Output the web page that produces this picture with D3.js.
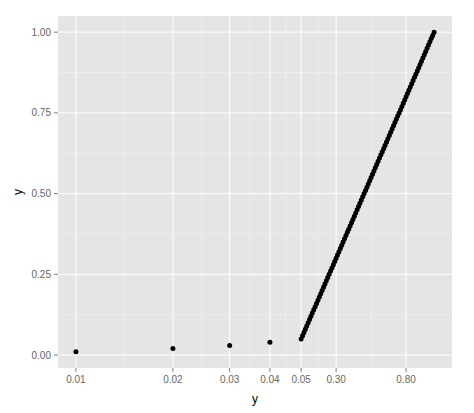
<!DOCTYPE html>
<html lang="en">
<head>
<meta charset="UTF-8">
<script src="https://d3js.org/d3.v7.min.js"></script>
<style>
  body { margin: 0; background: #fff; font-family: Arial, "Liberation Sans", sans-serif; }
</style>
</head>
<body>
<div id="chart"></div>
<script>
  const lowValues = [0.01, 0.02, 0.03, 0.04];
  const lineValues = [
    0.05, 0.06, 0.07, 0.08, 0.09, 0.10, 0.11, 0.12, 0.13, 0.14, 0.15, 0.16, 0.17, 0.18, 0.19,
    0.20, 0.21, 0.22, 0.23, 0.24, 0.25, 0.26, 0.27, 0.28, 0.29, 0.30, 0.31, 0.32, 0.33, 0.34,
    0.35, 0.36, 0.37, 0.38, 0.39, 0.40, 0.41, 0.42, 0.43, 0.44, 0.45, 0.46, 0.47, 0.48, 0.49,
    0.50, 0.51, 0.52, 0.53, 0.54, 0.55, 0.56, 0.57, 0.58, 0.59, 0.60, 0.61, 0.62, 0.63, 0.64,
    0.65, 0.66, 0.67, 0.68, 0.69, 0.70, 0.71, 0.72, 0.73, 0.74, 0.75, 0.76, 0.77, 0.78, 0.79,
    0.80, 0.81, 0.82, 0.83, 0.84, 0.85, 0.86, 0.87, 0.88, 0.89, 0.90, 0.91, 0.92, 0.93, 0.94,
    0.95, 0.96, 0.97, 0.98, 0.99, 1.00
  ];
  const xTicks = [0.01, 0.02, 0.03, 0.04, 0.05, 0.30, 0.80];
  const yTicks = [0, 0.25, 0.5, 0.75, 1];

  const width = 474, height = 413;
  const margin = { top: 16, right: 22, bottom: 45, left: 58 };
  const svg = d3.select("#chart").append("svg").attr("width", width).attr("height", height);

  // log below 0.05, linear above
  const cut = 0.05;
  const tr = v => v <= cut ? Math.log(v) : Math.log(cut) + (v - cut);
  const t0 = tr(0.01), t1 = tr(1), pad = (t1 - t0) * 0.05;
  const xLin = d3.scaleLinear().domain([t0 - pad, t1 + pad]).range([margin.left, width - margin.right]);
  const x = v => xLin(tr(v));
  const y = d3.scaleLinear().domain([-0.04, 1.05]).range([height - margin.bottom, margin.top]);

  const pw = width - margin.left - margin.right, ph = height - margin.top - margin.bottom;
  svg.append("rect").attr("x", margin.left).attr("y", margin.top)
    .attr("width", pw).attr("height", ph).attr("fill", "#e5e5e5");

  const grid = svg.append("g");
  const xMinor = d3.pairs(xTicks).map(([a, b]) => (x(a) + x(b)) / 2);
  const yMinor = d3.pairs(yTicks).map(([a, b]) => (a + b) / 2);
  xMinor.forEach(px => grid.append("line").attr("x1", px).attr("x2", px)
    .attr("y1", margin.top).attr("y2", margin.top + ph).attr("stroke", "#f2f2f2").attr("stroke-width", 0.5));
  yMinor.forEach(v => grid.append("line").attr("x1", margin.left).attr("x2", margin.left + pw)
    .attr("y1", y(v)).attr("y2", y(v)).attr("stroke", "#f2f2f2").attr("stroke-width", 0.5));
  xTicks.forEach(v => grid.append("line").attr("x1", x(v)).attr("x2", x(v))
    .attr("y1", margin.top).attr("y2", margin.top + ph).attr("stroke", "#fff").attr("stroke-width", 1));
  yTicks.forEach(v => grid.append("line").attr("x1", margin.left).attr("x2", margin.left + pw)
    .attr("y1", y(v)).attr("y2", y(v)).attr("stroke", "#fff").attr("stroke-width", 1));

  const axes = svg.append("g").attr("fill", "#666").attr("font-size", 10);
  xTicks.forEach(v => {
    axes.append("line").attr("x1", x(v)).attr("x2", x(v)).attr("y1", margin.top + ph)
      .attr("y2", margin.top + ph + 4).attr("stroke", "#7f7f7f");
    axes.append("text").attr("x", x(v)).attr("y", margin.top + ph + 15)
      .attr("text-anchor", "middle").text(v.toFixed(2));
  });
  yTicks.forEach(v => {
    axes.append("line").attr("x1", margin.left - 4).attr("x2", margin.left).attr("y1", y(v))
      .attr("y2", y(v)).attr("stroke", "#7f7f7f");
    axes.append("text").attr("x", margin.left - 7).attr("y", y(v)).attr("dy", "0.35em")
      .attr("text-anchor", "end").text(v.toFixed(2));
  });

  svg.append("text").attr("x", margin.left + pw / 2).attr("y", 403)
    .attr("text-anchor", "middle").attr("font-size", 12).text("y");
  svg.append("text").attr("transform", `translate(22,${margin.top + ph / 2}) rotate(-90)`)
    .attr("text-anchor", "middle").attr("font-size", 12).text("y");

  const pts = lowValues.concat(lineValues);
  svg.append("g").selectAll("circle").data(pts).join("circle")
    .attr("cx", d => x(d)).attr("cy", d => y(d)).attr("r", 2.5)
    .attr("fill", "#000");
</script>
</body>
</html>
